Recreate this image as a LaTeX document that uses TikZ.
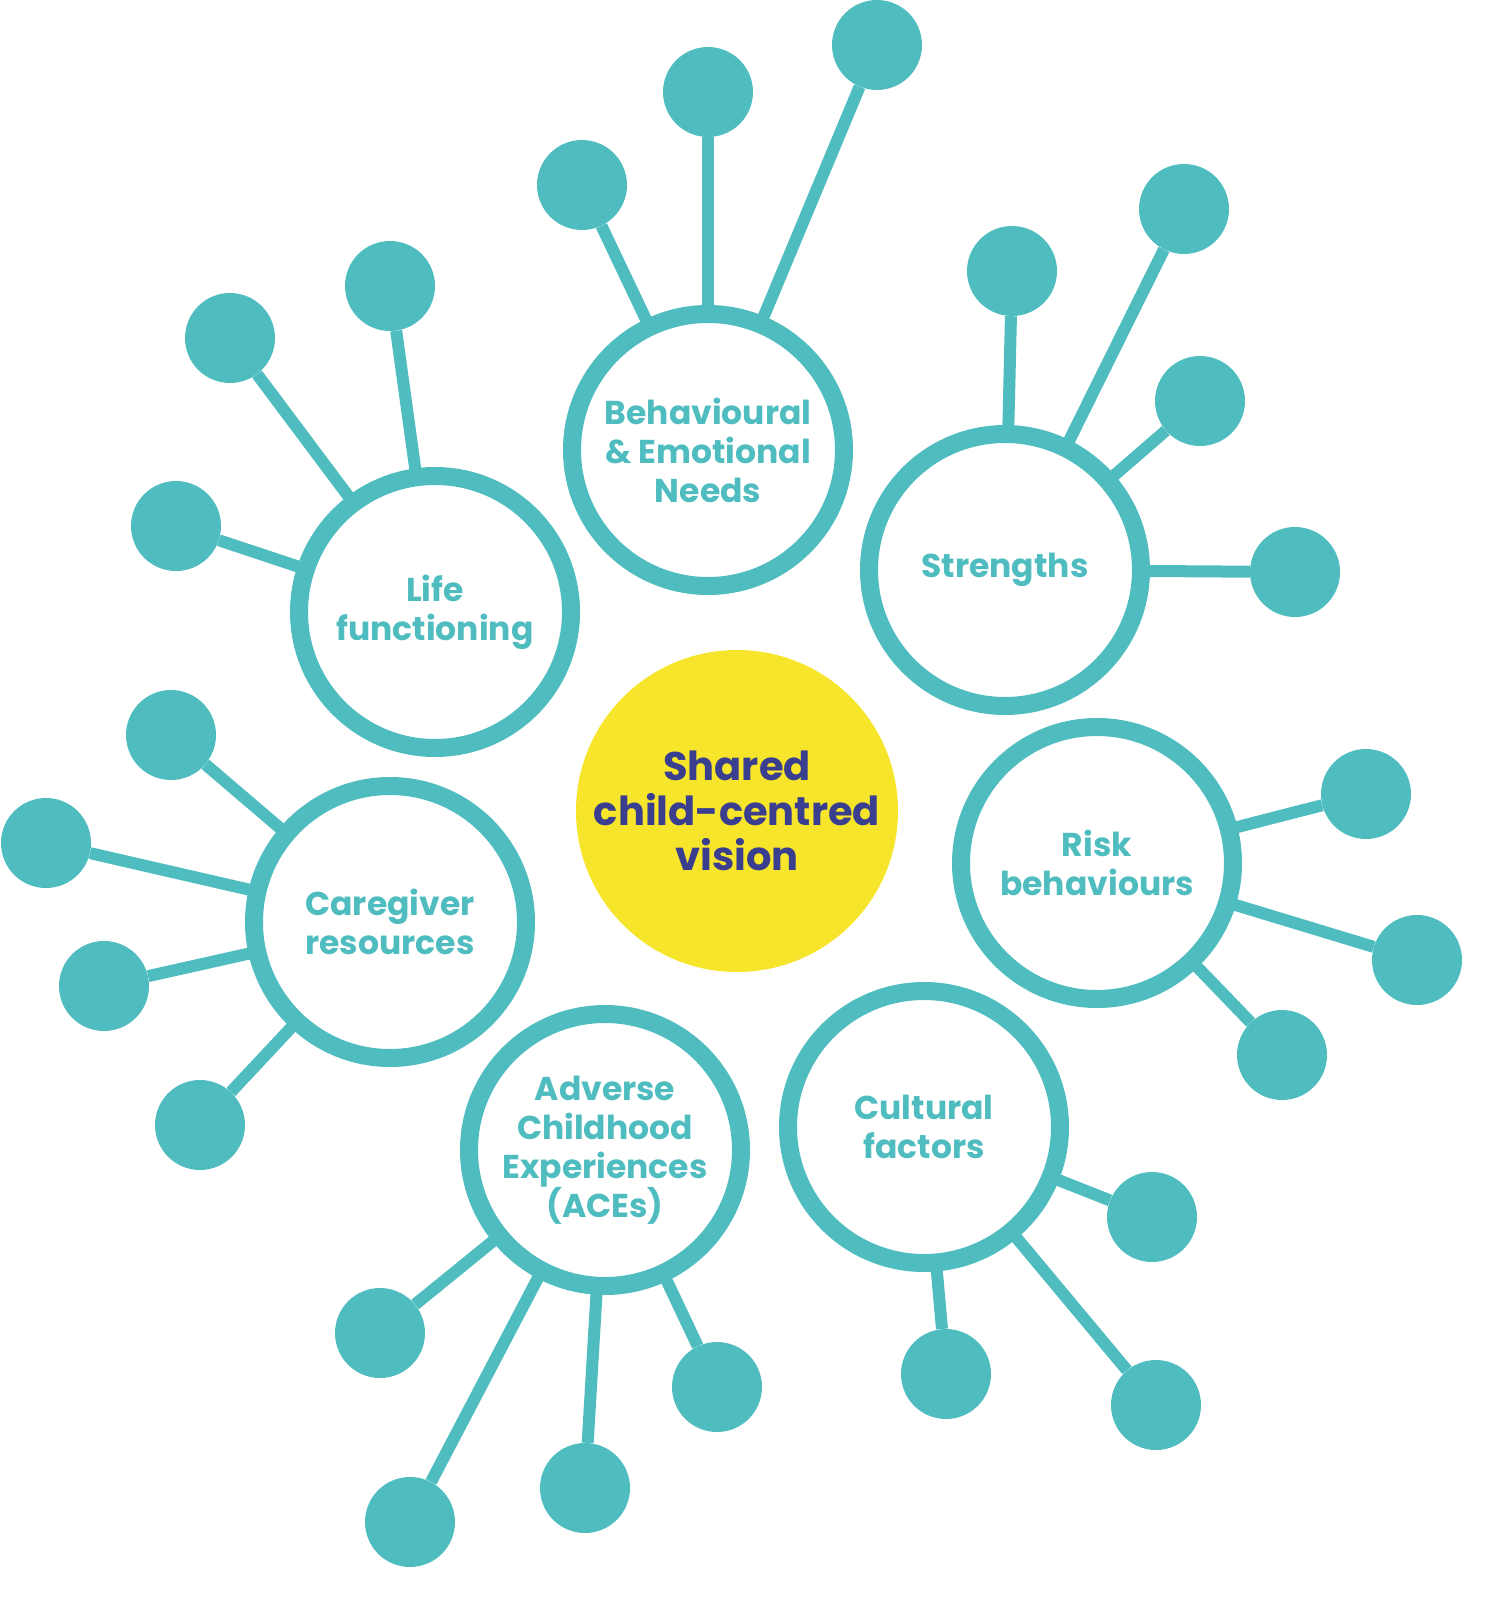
\documentclass[tikz,border=0pt]{standalone}
\usepackage{fontspec}
\setmainfont{Poppins}
\definecolor{teal}{HTML}{4FBDC0}
\definecolor{yel}{HTML}{F7E52B}
\definecolor{navy}{HTML}{3A3E8F}
\begin{document}
\begin{tikzpicture}[x=1pt,y=-1pt,
 big/.style={circle,draw=teal,line width=18pt,fill=white,minimum size=272pt,inner sep=0pt,align=center,text=teal,font=\fontsize{33}{39}\selectfont\bfseries},
 dot/.style={circle,fill=teal,minimum size=90pt,inner sep=0pt},
 con/.style={draw=teal,line width=12pt}]
\useasboundingbox (0,0) rectangle (1500,1608);
\node[circle,fill=yel,minimum size=322pt,inner sep=0pt,align=center,text=navy,font=\fontsize{40}{45}\selectfont\bfseries] (ctr) at (737,811) {Shared\\child-centred\\vision};
\foreach \n/\x/\y in {b1/582/185,b2/708/92,b3/877/45,s1/1012/271,s2/1184/209,s3/1200/401,s4/1295/572,l1/230/338,l2/390/286,l3/176/526,g1/171/735,g2/46/843,g3/104/986,g4/200/1125,r1/1366/794,r2/1417/960,r3/1282/1055,c1/1152/1217,c2/946/1374,c3/1156/1405,a1/380/1333,a2/410/1522,a3/585/1488,a4/717/1387}
 \node[dot] (\n) at (\x,\y) {};
\coordinate (B) at (708,450); \coordinate (S) at (1005,570); \coordinate (L) at (435,612);
\coordinate (G) at (390,922); \coordinate (R) at (1097,863); \coordinate (C) at (924,1127); \coordinate (A) at (605,1150);
\foreach \d/\c in {b1/B,b2/B,b3/B,s1/S,s2/S,s3/S,s4/S,l1/L,l2/L,l3/L,g1/G,g2/G,g3/G,g4/G,r1/R,r2/R,r3/R,c1/C,c2/C,c3/C,a1/A,a2/A,a3/A,a4/A}
 \draw[con] (\d) -- (\c);
\node[big] (nB) at (B) {Behavioural\\\& Emotional\\Needs};
\node[big] (nS) at (S) {Strengths};
\node[big] (nL) at (L) {Life\\functioning};
\node[big] (nG) at (G) {Caregiver\\resources};
\node[big] (nR) at (R) {Risk\\behaviours};
\node[big] (nC) at (C) {Cultural\\factors};
\node[big] (nA) at (A) {Adverse\\Childhood\\Experiences\\(ACEs)};
\end{tikzpicture}
\end{document}
